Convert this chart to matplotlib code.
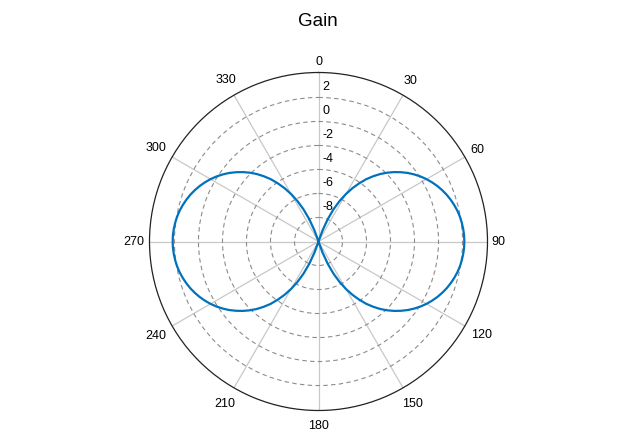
import numpy as np
import matplotlib.pyplot as plt

plt.rcParams['font.family'] = ['Liberation Sans', 'DejaVu Sans']

# gain (dBi) for 0..90 deg; the pattern is symmetric
# about 90 deg and about the 0-180 axis
angles_q = [0, 5, 10, 15, 18, 20, 22.5, 25, 27.5, 30, 32.5, 35, 37.5, 40, 42.5, 45,
            47.5, 50, 52.5, 55, 57.5, 60, 62.5, 65, 67.5, 70, 72.5, 75, 77.5, 80,
            82.5, 85, 87.5, 90]
gain_q = [-10, -10, -10, -10, -9.94, -9.02, -7.98, -7.04, -6.20, -5.44, -4.73, -4.08,
          -3.45, -2.90, -2.37, -1.89, -1.44, -1.02, -0.62, -0.26, 0.08, 0.39, 0.67,
          0.93, 1.16, 1.37, 1.55, 1.71, 1.85, 1.96, 2.04, 2.10, 2.14, 2.15]
rticks = [-8, -6, -4, -2, 0, 2]
theta_ticks = [0, 30, 60, 90, 120, 150, 180, 210, 240, 270, 300, 330]
r_min, r_max = -10, 4.08

angles_half = angles_q + [180 - a for a in angles_q[::-1][1:]]
gain_half = gain_q + gain_q[::-1][1:]
angles = angles_half + [360 - a for a in angles_half[::-1][1:]]
gain = gain_half + gain_half[::-1][1:]

# distance (px) from outer ring to the centre of each angle label
label_gap = [11, 16, 15, 11, 19, 19, 15, 19, 19, 16, 19, 17]

fig = plt.figure(figsize=(6.26, 4.46), dpi=100)
ax = fig.add_axes([149.5 / 626, 1 - 410.5 / 446, 338 / 626, 338 / 446], projection='polar')
ax.set_theta_zero_location('N')
ax.set_theta_direction(-1)

ax.plot(np.deg2rad(angles), gain, color='#0072BD', lw=1.6, zorder=3)

ax.set_ylim(r_min, r_max)
ax.set_thetagrids(theta_ticks, [''] * len(theta_ticks))
ax.set_rticks(rticks)
ax.set_yticklabels([])
ax.xaxis.grid(True, color='#c8c8c8', ls='-', lw=0.9)
ax.yaxis.grid(True, color='#8c8c8c', ls=(0, (4, 3)), lw=0.8)
ax.spines['polar'].set_color('#222222')
ax.spines['polar'].set_linewidth(0.9)

for t, g in zip(theta_ticks, label_gap):
    a = np.deg2rad(t)
    ax.annotate(str(t), xy=(a, r_max), xytext=(g * np.sin(a), g * np.cos(a)),
                textcoords='offset pixels', ha='center', va='center', fontsize=9,
                annotation_clip=False)

for v in rticks:
    ax.annotate(str(v), xy=(0, v), xytext=(4, 10), textcoords='offset pixels',
                ha='left', va='center', fontsize=9)

fig.text(318 / 626, 1 - 21 / 446, 'Gain', ha='center', va='center', fontsize=13.5)

fig.savefig('out.png', dpi=100)
